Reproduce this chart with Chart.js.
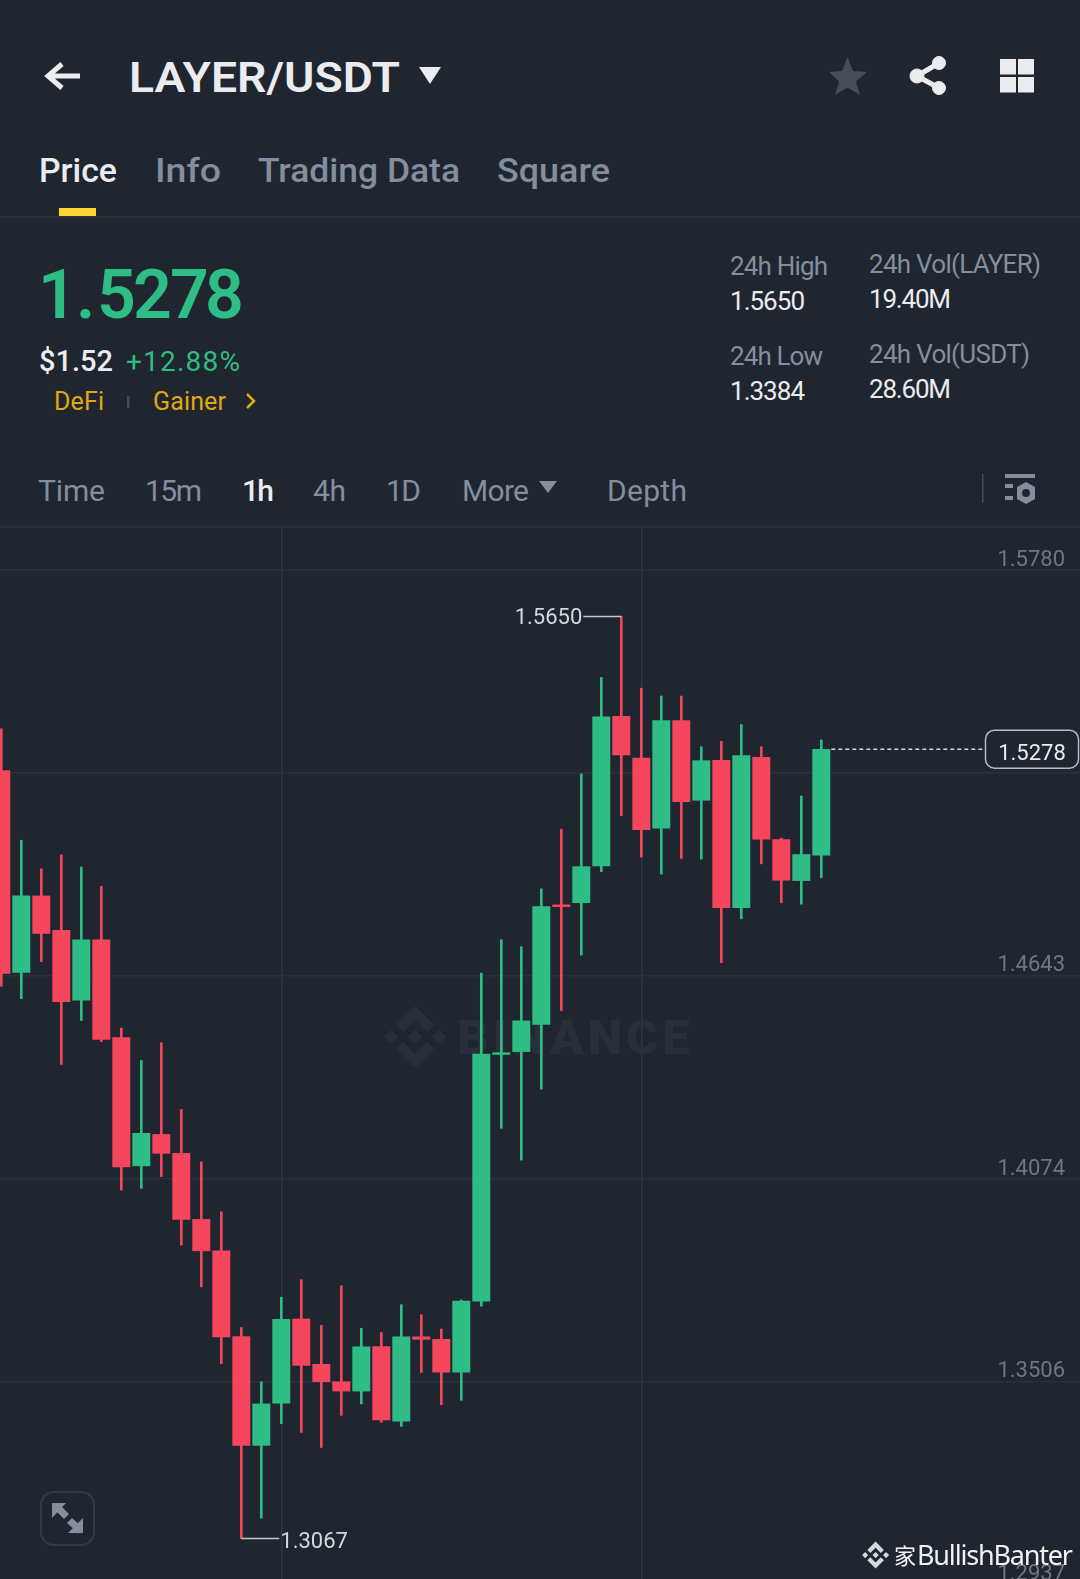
<!DOCTYPE html>
<html>
<head>
<meta charset="utf-8">
<title>LAYER/USDT</title>
<script src="https://cdn.jsdelivr.net/npm/chart.js@4/dist/chart.umd.min.js"></script>
<style>
  html, body { margin: 0; padding: 0; width: 1080px; height: 1579px; overflow: hidden; background: #1f2630; }
  body { position: relative; font-family: Roboto, sans-serif; }
  #top { position: absolute; left: 0; top: 0; }
  #wrap { position: absolute; left: 0; top: 527px; width: 1080px; height: 1070px; }
  #over { position: absolute; left: 0; top: 0; pointer-events: none; }
  text { font-family: Roboto, sans-serif; }
  .dim { fill: #848e9c; }
  .lite { fill: #eaecef; }
</style>
</head>
<body>

<svg id="top" width="1080" height="528">
  <!-- title row -->
  <path d="M80 76H50M62 64L48 76L62 88" fill="none" stroke="#eaecef" stroke-width="5"/>
  <text x="129" y="92" font-size="42" font-weight="600" fill="#eaecef" textLength="271" lengthAdjust="spacingAndGlyphs">LAYER/USDT</text>
  <path d="M419 67H441L430 84Z" fill="#eaecef"/>
  <path d="M847.5 57L853 71L867 72L856 81.500L860 95L847.500 87.500L835 95L839 81.500L829 72L842 71Z" fill="#474d57"/>
  <g fill="#eaecef" stroke="#eaecef">
    <circle cx="939" cy="63" r="6.500"/><circle cx="917" cy="76" r="7"/><circle cx="939" cy="88" r="6.500"/>
    <path d="M917 76L939 63M917 76L939 88" stroke-width="5" fill="none"/>
  </g>
  <g fill="#eaecef">
    <rect x="1000" y="59" width="16" height="15.500"/><rect x="1018" y="59" width="16" height="15.500"/>
    <rect x="1000" y="77" width="16" height="15.500"/><rect x="1018" y="77" width="16" height="15.500"/>
  </g>

  <!-- tabs -->
  <text x="39" y="182" font-size="33" font-weight="500" fill="#eaecef" textLength="78" lengthAdjust="spacingAndGlyphs">Price</text>
  <text x="155" y="182" font-size="33" font-weight="500" class="dim" textLength="66" lengthAdjust="spacingAndGlyphs">Info</text>
  <text x="258" y="182" font-size="33" font-weight="500" class="dim" textLength="202" lengthAdjust="spacingAndGlyphs">Trading Data</text>
  <text x="497" y="182" font-size="33" font-weight="500" class="dim" textLength="113" lengthAdjust="spacingAndGlyphs">Square</text>
  <rect x="59" y="208" width="37" height="8" fill="#fcd535"/>
  <rect x="0" y="216" width="1080" height="1.500" fill="#2b3139"/>

  <!-- price block -->
  <text x="38 76 97 133 170 205" y="318" font-size="68" font-weight="600" fill="#2ebd85">1.5278</text>
  <text x="39" y="371" font-size="29" font-weight="500" fill="#eaecef" textLength="74">$1.52</text>
  <text x="126" y="371" font-size="28" fill="#2ebd85" textLength="114">+12.88%</text>
  <text x="54" y="410" font-size="25" fill="#e0a90f" textLength="50">DeFi</text>
  <rect x="127" y="396" width="2.500" height="12" fill="#474d57"/>
  <text x="153" y="410" font-size="25" fill="#e0a90f" textLength="73">Gainer</text>
  <path d="M247 394L254 401L247 408" fill="none" stroke="#e0a90f" stroke-width="2.500"/>

  <!-- 24h stats -->
  <text x="730" y="275" font-size="26" class="dim" textLength="98">24h High</text>
  <text x="730" y="310" font-size="26" class="lite" textLength="75">1.5650</text>
  <text x="869" y="273" font-size="26" class="dim" textLength="172">24h Vol(LAYER)</text>
  <text x="869" y="308" font-size="26" class="lite" textLength="82">19.40M</text>
  <text x="730" y="365" font-size="26" class="dim" textLength="93">24h Low</text>
  <text x="730" y="400" font-size="26" class="lite" textLength="75">1.3384</text>
  <text x="869" y="363" font-size="26" class="dim" textLength="161">24h Vol(USDT)</text>
  <text x="869" y="398" font-size="26" class="lite" textLength="82">28.60M</text>

  <!-- interval row -->
  <text x="38" y="501" font-size="30" class="dim" textLength="67">Time</text>
  <text x="145" y="501" font-size="30" class="dim" textLength="57">15m</text>
  <text x="242" y="501" font-size="30" font-weight="500" fill="#eaecef" textLength="32">1h</text>
  <text x="313" y="501" font-size="30" class="dim" textLength="33">4h</text>
  <text x="386" y="501" font-size="30" class="dim" textLength="35">1D</text>
  <text x="462" y="501" font-size="30" class="dim" textLength="67">More</text>
  <path d="M539 481H557L548 493Z" fill="#848e9c"/>
  <text x="607" y="501" font-size="30" class="dim" textLength="80">Depth</text>
  <rect x="982" y="474" width="1.500" height="29" fill="#474d57"/>
  <g fill="#848e9c">
    <rect x="1005" y="474" width="30" height="4"/>
    <rect x="1005" y="484" width="8" height="4"/><rect x="1005" y="496" width="8" height="4"/>
    <path d="M1026 482L1035 487V499L1026 504L1017 499V487ZM1026 489A4 4 0 1 0 1026 497A4 4 0 1 0 1026 489Z" fill-rule="evenodd"/>
  </g>
  <rect x="0" y="526" width="1080" height="1.500" fill="#2b3139"/>
</svg>

<div id="wrap"><canvas id="chart" width="1080" height="1070"></canvas></div>

<svg id="over" width="1080" height="1579">
  <!-- expand button -->
  <rect x="41" y="1492" width="53" height="53" rx="13" fill="none" stroke="#343b47" stroke-width="2"/>
  <g fill="#848e9c">
    <path d="M52 1503H66L52 1518Z"/>
    <path d="M83 1533H68L83 1518Z"/>
    <path d="M55 1510L60 1505L69 1514L64 1519Z"/>
    <path d="M67 1523L72 1518L81 1526L76 1531Z"/>
  </g>
  <!-- bottom right credit -->
  <path transform="translate(854 1533.500) scale(1.350)" fill="#d5d8dc" d="M12.116 14.404L16 10.52l3.886 3.886 2.26-2.26L16 6l-6.144 6.144 2.26 2.26zM6 16l2.26-2.26L10.52 16l-2.26 2.26L6 16zm6.116 1.596L16 21.48l3.886-3.886 2.26 2.259L16 26l-6.144-6.144-.003-.003 2.263-2.257zM21.48 16l2.26-2.26L26 16l-2.26 2.26L21.48 16zm-3.188-.002h.002V16L16 18.294l-2.291-2.29-.004-.004.004-.003.401-.402.195-.195L16 13.706l2.293 2.293z"/>
  <text x="894" y="1564" font-size="22" fill="#f5f5f5" style="font-family:'Noto Sans CJK SC'">家</text>
  <text x="917" y="1565" font-size="27" fill="#f0f1f2" style="font-family:'Noto Sans'" textLength="156">BullishBanter</text>
</svg>

<script>
// ── DATA ──────────────────────────────────────────────────────
const candles = Array.from({ length: 42 }, (_, i) => i);
const opens  = [1.5218,1.4653,1.4867,1.4771,1.4575,1.4744,1.4470,1.4111,1.4199,1.4146,1.3961,1.3873,1.3633,1.3328,
                1.3446,1.3682,1.3555,1.3506,1.3480,1.3605,1.3396,1.3632,1.3625,1.3533,1.3732,1.4423,1.4431,1.4507,
                1.4842,1.4848,1.4951,1.5370,1.5253,1.5057,1.5358,1.5135,1.5247,1.4834,1.5255,1.5025,1.4910,1.4981];
const highs  = [1.5335,1.5023,1.4943,1.4982,1.4948,1.4894,1.4497,1.4406,1.4456,1.4269,1.4122,1.3982,1.3658,1.3506,
                1.3743,1.3792,1.3664,1.3775,1.3656,1.3644,1.3722,1.3694,1.3654,1.3735,1.4651,1.4744,1.4725,1.4887,
                1.5054,1.5209,1.5479,1.5650,1.5449,1.5427,1.5427,1.5285,1.5300,1.5347,1.5285,1.5029,1.5147,1.5304];
const lows   = [1.4614,1.4579,1.4683,1.4395,1.4518,1.4459,1.4043,1.4048,1.4081,1.3889,1.3772,1.3557,1.3067,1.3124,
                1.3389,1.3364,1.3322,1.3412,1.3444,1.3393,1.3381,1.3532,1.3442,1.3454,1.3718,1.4216,1.4127,1.4326,
                1.4546,1.4701,1.4935,1.5092,1.4976,1.4928,1.4972,1.4970,1.4680,1.4803,1.4957,1.4848,1.4844,1.4918];
const closes = [1.4650,1.4867,1.4762,1.4571,1.4744,1.4465,1.4108,1.4202,1.4146,1.3961,1.3873,1.3632,1.3328,1.3444,
                1.3681,1.3552,1.3506,1.3480,1.3604,1.3399,1.3632,1.3625,1.3533,1.3732,1.4424,1.4428,1.4517,1.4837,
                1.4837,1.4949,1.5369,1.5262,1.5053,1.5358,1.5131,1.5246,1.4834,1.5260,1.5026,1.4911,1.4983,1.5278];
const priceTicks = [1.5780, 1.5211, 1.4643, 1.4074, 1.3506, 1.2937];
const timeTicks = [14, 32];   // the two vertical lines sit on these candles
const highMark = { i: 31, price: 1.5650 };
const lowMark = { i: 12, price: 1.3067 };
const lastPrice = 1.5278;

const UP = '#2ebd85', DOWN = '#f6465d', LINE = '#2b3139';
const colors = candles.map(i => closes[i] >= opens[i] ? UP : DOWN);
const LOGO = 'M12.116 14.404L16 10.52l3.886 3.886 2.26-2.26L16 6l-6.144 6.144 2.26 2.26zM6 16l2.26-2.26L10.52 16l-2.26 2.26L6 16zm6.116 1.596L16 21.48l3.886-3.886 2.26 2.259L16 26l-6.144-6.144-.003-.003 2.263-2.257zM21.48 16l2.26-2.26L26 16l-2.26 2.26L21.48 16zm-3.188-.002h.002V16L16 18.294l-2.291-2.29-.004-.004.004-.003.401-.402.195-.195L16 13.706l2.293 2.293z';

// ── WATERMARK (under the candles) ─────────────────────────────
const watermark = {
  id: 'watermark',
  beforeDatasetsDraw(chart) {
    const ctx = chart.ctx;
    ctx.save();
    ctx.fillStyle = '#2a303b';
    ctx.translate(384, 479);
    ctx.scale(3.1, 3.1);
    ctx.translate(-6, -6);
    ctx.fill(new Path2D(LOGO));
    ctx.restore();
    ctx.save();
    ctx.fillStyle = '#2a303b';
    ctx.font = '900 49px Roboto';
    ctx.letterSpacing = '4px';
    ctx.textBaseline = 'alphabetic';
    ctx.fillText('BINANCE', 457, 527);
    ctx.restore();
  },
};

// ── HIGH / LOW / LAST PRICE MARKERS ───────────────────────────
const markers = {
  id: 'markers',
  afterDraw(chart) {
    const ctx = chart.ctx, x = chart.scales.x, y = chart.scales.y;
    ctx.save();
    ctx.font = '22px Roboto';
    ctx.textBaseline = 'middle';
    ctx.strokeStyle = '#c4c7cc';
    ctx.fillStyle = '#d5d8dc';
    ctx.lineWidth = 1.5;

    const hx = x.getPixelForValue(highMark.i), hy = y.getPixelForValue(highMark.price);
    ctx.beginPath(); ctx.moveTo(hx, hy); ctx.lineTo(hx - 38, hy); ctx.stroke();
    ctx.textAlign = 'right';
    ctx.fillText(highMark.price.toFixed(4), hx - 39, hy + 2);

    const lx = x.getPixelForValue(lowMark.i), ly = y.getPixelForValue(lowMark.price);
    ctx.beginPath(); ctx.moveTo(lx, ly); ctx.lineTo(lx + 38, ly); ctx.stroke();
    ctx.textAlign = 'left';
    ctx.fillText(lowMark.price.toFixed(4), lx + 39, ly + 4);

    // dashed line out to the last price tag
    const ey = y.getPixelForValue(lastPrice), ex = x.getPixelForValue(candles.length - 1);
    ctx.setLineDash([4, 3]);
    ctx.strokeStyle = '#d5d8dc';
    ctx.beginPath(); ctx.moveTo(ex + 10, ey); ctx.lineTo(985, ey); ctx.stroke();
    ctx.setLineDash([]);

    ctx.fillStyle = '#1f2630';
    ctx.strokeStyle = '#b7bdc6';
    ctx.beginPath(); ctx.roundRect(985.5, ey - 19, 93, 38, 9); ctx.fill(); ctx.stroke();
    ctx.fillStyle = '#eaecef';
    ctx.textAlign = 'center';
    ctx.fillText(lastPrice.toFixed(4), 1032, ey + 5);
    ctx.restore();
  },
};

// ── CHART ─────────────────────────────────────────────────────
new Chart(document.getElementById('chart'), {
  type: 'bar',
  data: {
    datasets: [
      { label: 'wick', data: candles.map(i => ({ x: i, y: [lows[i], highs[i]] })), backgroundColor: colors, barThickness: 2 },
      { label: 'body', data: candles.map(i => ({ x: i, y: [opens[i], closes[i]] })), backgroundColor: colors, barThickness: 17.3 },
    ],
  },
  options: {
    responsive: false,
    animation: false,
    grouped: false,
    layout: { padding: 0 },
    plugins: { legend: { display: false }, tooltip: { enabled: false } },
    scales: {
      x: {
        type: 'linear',
        offset: false,
        min: -0.065,
        max: 53.935,
        afterBuildTicks: axis => { axis.ticks = timeTicks.map(value => ({ value })); },
        afterFit: axis => { axis.paddingLeft = axis.paddingRight = 0; axis.height = 0; },
        ticks: { display: false },
        grid: { color: '#2f3642', lineWidth: 1.5, drawTicks: false, offset: false },
        border: { display: false },
      },
      y: {
        position: 'right',
        min: 1.29032,
        max: 1.59005,
        afterBuildTicks: axis => { axis.ticks = priceTicks.map(value => ({ value })); },
        // the labels sit inside the plot, so the axis takes no room of its own
        afterFit: axis => { axis.paddingTop = axis.paddingBottom = 0; axis.width = 0; },
        ticks: {
          mirror: true,
          padding: -15,
          labelOffset: -10,
          color: '#6f7784',
          font: { family: 'Roboto', size: 22 },
          callback: v => v.toFixed(4),
        },
        grid: { color: LINE, lineWidth: 1.5, drawTicks: false },
        border: { display: false },
      },
    },
  },
  plugins: [watermark, markers],
});
</script>
</body>
</html>
